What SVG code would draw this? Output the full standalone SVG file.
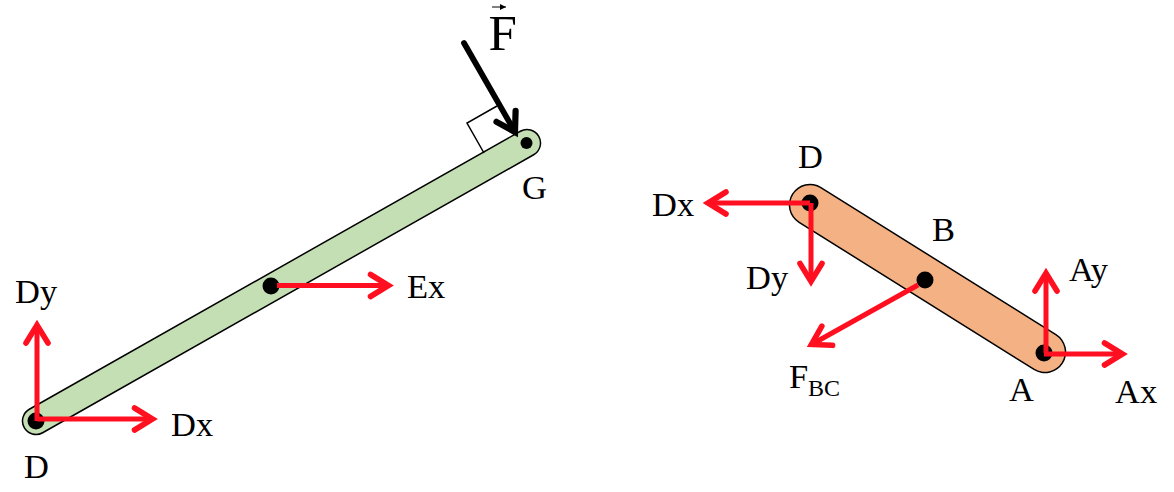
<svg xmlns="http://www.w3.org/2000/svg" width="1174" height="492" viewBox="0 0 1174 492">
<style>
text{font-family:"Liberation Serif","Times New Roman",serif;font-size:34.500px;fill:#000}
.big{font-size:51px}
.sub{font-size:24px}
.red{fill:none;stroke:#ff0f1f;stroke-width:5;marker-end:url(#rh)}
.dot{fill:#000}
</style>
<defs>
<marker id="rh" markerUnits="userSpaceOnUse" markerWidth="40" markerHeight="40" viewBox="-30 -20 40 40" refX="0" refY="0" orient="auto">
<path d="M-18,-11 L0,0 L-18,11" fill="none" stroke="#ff0f1f" stroke-width="5.600" stroke-linecap="round" stroke-linejoin="miter" stroke-miterlimit="6"/>
</marker>
<marker id="kh" markerUnits="userSpaceOnUse" markerWidth="48" markerHeight="48" viewBox="-34 -24 48 48" refX="0" refY="0" orient="auto">
<path d="M-18,-11 L0,0 L-18,11" fill="none" stroke="#000" stroke-width="6.200" stroke-linecap="round" stroke-linejoin="miter" stroke-miterlimit="6"/>
</marker>
<marker id="sh" markerUnits="userSpaceOnUse" markerWidth="10" markerHeight="8" viewBox="-6 -4 10 8" refX="0" refY="0" orient="auto">
<path d="M-6,-3 L0,0 L-6,3 Z" fill="#000"/>
</marker>
</defs>
<g id="bar-green">
<line x1="36" y1="421" x2="527" y2="143" stroke="#000" stroke-width="28.500" stroke-linecap="round"/>
<line x1="36" y1="421" x2="527" y2="143" stroke="#c5dfb4" stroke-width="25.500" stroke-linecap="round"/>
<path d="M484,153 L467,123 L497,106" fill="none" stroke="#000" stroke-width="1.500"/>
</g>
<g id="bar-orange">
<line x1="810" y1="205" x2="1045" y2="352" stroke="#000" stroke-width="42.500" stroke-linecap="round"/>
<line x1="810" y1="205" x2="1045" y2="352" stroke="#f4b183" stroke-width="39.500" stroke-linecap="round"/>
</g>
<g id="node-G"><circle class="dot" cx="526.500" cy="143" r="6"/><text x="522" y="199">G</text></g>
<g id="node-D-left"><circle class="dot" cx="36" cy="421" r="8.500"/><text x="24" y="478">D</text></g>
<g id="node-E"><circle class="dot" cx="271" cy="286" r="8.500"/></g>
<g id="node-D-right"><circle class="dot" cx="810" cy="203" r="8.500"/><text x="798" y="168">D</text></g>
<g id="node-B"><circle class="dot" cx="925" cy="280" r="8.500"/><text x="932" y="241">B</text></g>
<g id="node-A"><circle class="dot" cx="1044" cy="353" r="8.500"/><text x="1009" y="401">A</text></g>
<g id="connectors">
<path class="red" d="M37,421 V325"/>
<path class="red" d="M37,419 H152.500"/>
<path class="red" d="M277,285.500 H388.500"/>
<path class="red" d="M810,203 H708"/>
<path class="red" d="M811,203 V281.500"/>
<path class="red" d="M918,285 L811.500,344.500"/>
<path class="red" d="M1046,353 V273"/>
<path class="red" d="M1044,354 H1122.500"/>
<path d="M464,43 L515,132" fill="none" stroke="#000" stroke-width="5.800" stroke-linecap="round" marker-end="url(#kh)"/>
<path d="M492,7 H506" fill="none" stroke="#000" stroke-width="1" marker-end="url(#sh)"/>
</g>
<g id="labels">
<text class="big" x="488.500" y="50">F</text>
<text x="15" y="303">Dy</text>
<text x="171" y="436">Dx</text>
<text x="407" y="298">Ex</text>
<text x="652" y="216">Dx</text>
<text x="746" y="289">Dy</text>
<text x="789" y="388">F</text>
<text class="sub" x="808" y="396">BC</text>
<text x="1069" y="281">Ay</text>
<text x="1115" y="403">Ax</text>
</g>
</svg>
